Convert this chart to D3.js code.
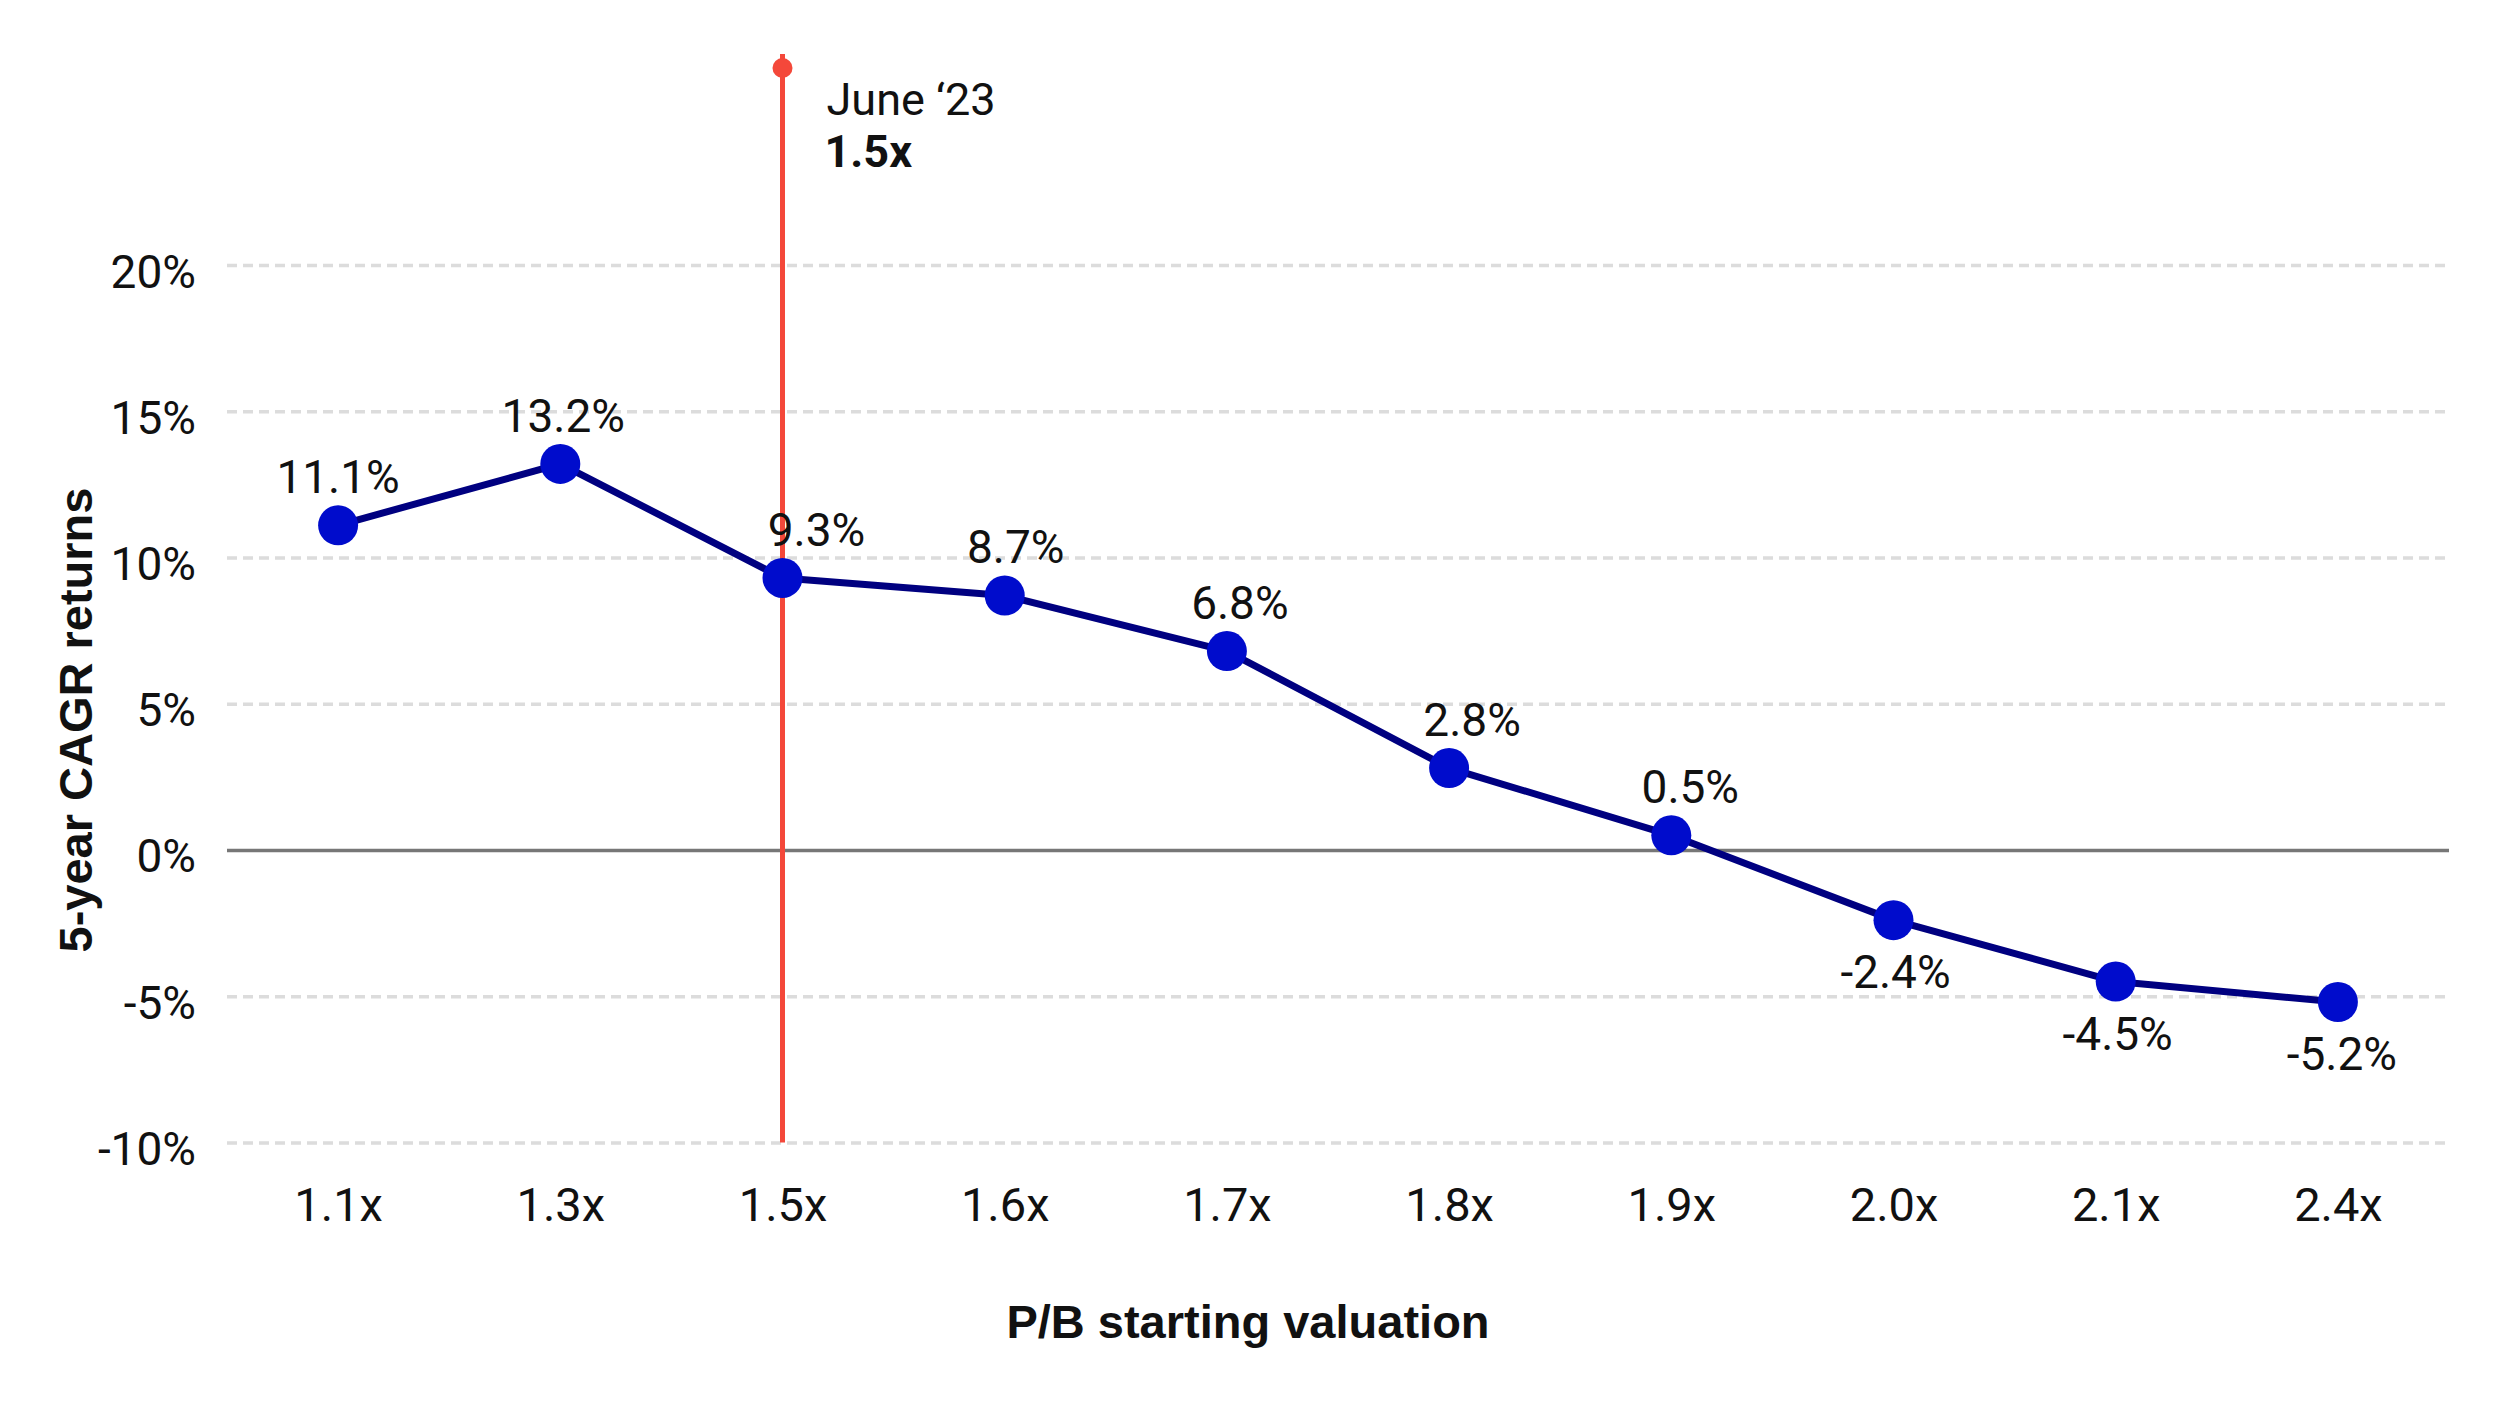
<!DOCTYPE html>
<html>
<head>
<meta charset="utf-8">
<script src="https://cdn.jsdelivr.net/npm/d3@7"></script>
<style>
  html, body { margin: 0; padding: 0; background: #ffffff; }
  svg { display: block; }
</style>
</head>
<body>
<svg id="chart" width="2496" height="1404"></svg>
<script>
// ---- data ----
const categories = ["1.1x", "1.3x", "1.5x", "1.6x", "1.7x", "1.8x", "1.9x", "2.0x", "2.1x", "2.4x"];
const cagrReturns = [11.1, 13.2, 9.3, 8.7, 6.8, 2.8, 0.5, -2.4, -4.5, -5.2];
const yTicks = [-10, -5, 0, 5, 10, 15, 20];
const markerCategory = "1.5x";
const markerLabel = "June \u201823";
const markerValueLabel = "1.5x";

// ---- layout ----
const W = 2496, H = 1404;
const plotLeft = 227, plotRight = 2449, plotTop = 265, plotBottom = 1142.4;
const labelNudge = [0, 3, 34, 11, 13, 23, 19, 2, 2, 4];

const svg = d3.select("#chart");
svg.append("rect").attr("width", W).attr("height", H).attr("fill", "#fff");

const x = d3.scalePoint().domain(categories).range([plotLeft, plotRight]).padding(0.5);
const y = d3.scaleLinear().domain([-10, 20]).range([plotBottom, plotTop]);

const baseFont = "Roboto, 'Noto Sans', sans-serif";

// grid lines
const yAxis = d3.axisLeft(y).tickValues(yTicks)
  .tickSize(-(plotRight - plotLeft))
  .tickPadding(31)
  .tickFormat(d => d + "%");
const gy = svg.append("g").attr("transform", `translate(${plotLeft},0)`).call(yAxis);
gy.select(".domain").remove();
gy.selectAll(".tick line")
  .attr("stroke", d => d === 0 ? "#777777" : "#dcdcdc")
  .attr("stroke-width", d => d === 0 ? 3.5 : 3.5)
  .attr("stroke-dasharray", d => d === 0 ? null : "10,6");
gy.selectAll(".tick text")
  .attr("font-family", baseFont)
  .attr("font-size", 46)
  .attr("fill", "#111")
  .attr("dy", 0)
  .attr("y", 22);

// x axis labels
const xAxis = d3.axisBottom(x).tickSize(0).tickPadding(0);
const gx = svg.append("g").attr("transform", `translate(0,${plotBottom})`).call(xAxis);
gx.select(".domain").remove();
gx.selectAll(".tick text")
  .attr("font-family", baseFont)
  .attr("font-size", 47)
  .attr("fill", "#111")
  .attr("dy", 0)
  .attr("y", 1221.5 - plotBottom);

// red marker line
const mx = x(markerCategory);
svg.append("line")
  .attr("x1", mx).attr("x2", mx)
  .attr("y1", 54).attr("y2", plotBottom)
  .attr("stroke", "#f4483a").attr("stroke-width", 5);
svg.append("circle").attr("cx", mx).attr("cy", 68).attr("r", 10).attr("fill", "#f4483a");
svg.append("text")
  .attr("x", mx + 44).attr("y", 115)
  .attr("font-family", baseFont).attr("font-size", 45).attr("fill", "#111")
  .text(markerLabel);
svg.append("text")
  .attr("x", mx + 42).attr("y", 166.5)
  .attr("font-family", baseFont).attr("font-size", 45).attr("font-weight", 700).attr("fill", "#111")
  .text(markerValueLabel);

// line
const data = categories.map((c, i) => ({ c, v: cagrReturns[i], i }));
const line = d3.line().x(d => x(d.c)).y(d => y(d.v));
svg.append("path").datum(data)
  .attr("d", line)
  .attr("fill", "none")
  .attr("stroke", "#000080")
  .attr("stroke-width", 7)
  .attr("stroke-linejoin", "round");

svg.selectAll("circle.pt").data(data).enter().append("circle")
  .attr("class", "pt")
  .attr("cx", d => x(d.c)).attr("cy", d => y(d.v))
  .attr("r", 20)
  .attr("fill", "#000ccc");

svg.selectAll("text.lbl").data(data).enter().append("text")
  .attr("class", "lbl")
  .attr("x", d => x(d.c) + labelNudge[d.i])
  .attr("y", d => y(d.v) + (d.v >= 0 ? -32 : 68))
  .attr("text-anchor", "middle")
  .attr("font-family", baseFont).attr("font-size", 46).attr("fill", "#111")
  .text(d => d.v.toFixed(1) + "%");

// axis titles
svg.append("text")
  .attr("transform", `translate(92,720) rotate(-90)`)
  .attr("text-anchor", "middle")
  .attr("font-family", "'Liberation Sans', Arial, sans-serif")
  .attr("font-size", 47).attr("font-weight", 700).attr("fill", "#111")
  .text("5-year CAGR returns");
svg.append("text")
  .attr("x", 1248).attr("y", 1338)
  .attr("text-anchor", "middle")
  .attr("font-family", "'Liberation Sans', Arial, sans-serif")
  .attr("font-size", 47).attr("font-weight", 700).attr("fill", "#111")
  .text("P/B starting valuation");
</script>
</body>
</html>
